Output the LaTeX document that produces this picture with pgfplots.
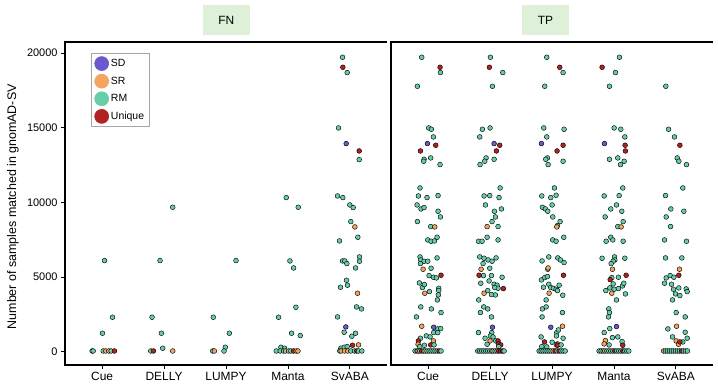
\documentclass[border=0pt]{standalone}
\usepackage{pgfplots}
\pgfplotsset{compat=1.18}
\usepackage{pgfplotstable}
\usepackage{fontspec}
\setmainfont{Liberation Sans}
\definecolor{sdcol}{HTML}{6A5ACD}
\definecolor{srcol}{HTML}{F4A460}
\definecolor{rmcol}{HTML}{66CDAA}
\definecolor{uqcol}{HTML}{B22222}
\definecolor{stripcol}{HTML}{DFF0D8}

\pgfplotstableread{
x y c
0.038 6099 RM
0.005 1229 RM
0.167 2301 RM
-0.162 40 RM
-0.145 40 RM
0.016 40 RM
0.059 40 SR
0.108 40 SR
0.145 40 RM
0.199 40 Unique
0.935 6099 RM
1.140 9673 RM
0.806 2301 RM
0.957 1229 RM
0.978 223 RM
0.785 40 RM
0.828 40 Unique
1.140 40 SR
2.162 6099 RM
1.795 2301 RM
2.054 1229 RM
1.989 290 RM
1.968 40 RM
1.785 40 RM
1.812 40 SR
2.973 10321 RM
3.167 9673 RM
3.032 6076 RM
3.092 5607 RM
3.129 2971 RM
2.849 2301 RM
3.059 1229 RM
3.199 1072 RM
2.887 290 RM
2.946 223 RM
2.812 40 RM
2.876 40 RM
2.930 40 RM
2.962 40 SR
3.011 40 RM
3.048 40 RM
3.092 40 Unique
3.135 40 SR
3.162 40 SR
3.882 19727 RM
3.887 19057 Unique
3.957 18700 RM
3.817 14990 RM
3.941 13940 SD
4.151 13448 Unique
4.151 12867 RM
3.801 10432 RM
3.887 10320 RM
4.000 9829 RM
4.054 9650 RM
4.016 8712 RM
4.081 8355 SR
4.129 7662 RM
3.833 7417 RM
4.156 6345 RM
4.156 6054 RM
3.882 6076 RM
3.919 6076 RM
3.952 5898 RM
4.092 5607 RM
3.946 4781 RM
3.962 4446 RM
3.849 4312 RM
4.124 3910 SR
4.108 2994 RM
4.188 2860 RM
3.801 2323 RM
3.935 1653 SD
3.908 1296 RM
4.092 1229 RM
4.032 1028 RM
3.855 223 RM
3.908 290 RM
3.957 335 RM
4.043 424 Unique
4.140 447 SR
3.838 40 RM
3.860 40 SR
3.914 40 SR
3.968 40 SR
4.016 40 RM
4.075 40 RM
4.113 40 Unique
4.140 40 RM
4.194 40 RM
}\fntab

\pgfplotstableread{
x y c
-0.104 19727 RM
0.192 19057 Unique
0.198 18700 RM
-0.174 17783 RM
0.009 14990 RM
0.052 14901 RM
0.085 14387 RM
-0.012 13940 SD
0.122 13829 Unique
-0.125 13448 Unique
-0.066 12890 RM
-0.072 12756 RM
0.041 12980 RM
0.192 12533 RM
-0.131 10969 RM
-0.158 10432 RM
-0.018 10321 RM
0.160 10455 RM
-0.179 9829 RM
-0.115 9561 RM
-0.066 9650 RM
0.160 9405 RM
0.198 9025 RM
-0.174 8712 RM
0.041 8377 RM
0.106 8355 SR
-0.007 7483 RM
0.047 7394 RM
0.101 7417 RM
0.144 7662 RM
-0.131 6345 RM
-0.120 6143 RM
-0.066 6054 RM
-0.007 6054 RM
0.144 6278 RM
-0.125 5898 RM
-0.082 5518 SR
0.047 5585 RM
0.015 5094 RM
0.085 4982 RM
0.133 4937 RM
0.208 5116 Unique
-0.142 4602 RM
-0.093 4289 RM
-0.061 4490 RM
0.020 4021 RM
-0.055 3910 SR
0.171 4245 RM
0.171 4088 RM
0.165 3798 RM
0.149 3463 RM
-0.120 2994 RM
0.052 2860 RM
0.208 2614 RM
-0.190 2323 RM
-0.104 1698 SR
0.090 1631 SD
0.155 1519 RM
0.203 1541 RM
0.090 1273 RM
0.155 1273 RM
-0.029 1050 RM
0.031 983 RM
-0.125 894 RM
-0.158 715 Unique
0.085 715 SR
-0.163 491 SR
-0.061 424 RM
0.041 447 Unique
0.095 447 RM
-0.136 335 RM
-0.212 40 RM
-0.179 40 RM
-0.163 40 SR
-0.136 40 RM
-0.104 40 Unique
-0.072 40 RM
-0.050 40 SR
-0.018 40 RM
0.015 40 RM
0.047 40 RM
0.079 40 RM
0.111 40 RM
0.144 40 RM
0.176 40 Unique
0.208 40 RM
1.005 19727 RM
0.989 19057 Unique
1.205 18700 RM
1.038 17783 RM
1.000 14990 RM
0.876 14901 RM
0.833 14387 RM
1.065 13940 SD
1.156 13829 Unique
1.102 13448 Unique
0.935 12980 RM
0.914 12756 RM
0.838 12533 RM
1.065 12890 RM
1.162 10969 RM
0.903 10432 RM
0.995 10455 RM
1.145 10321 RM
0.925 9829 RM
1.183 9561 RM
1.070 9405 RM
1.086 9025 RM
1.032 8712 RM
0.952 8377 SR
1.129 8377 RM
0.812 7394 RM
0.871 7394 RM
0.952 7662 RM
1.129 7483 RM
0.833 6345 RM
0.903 6255 RM
0.968 6143 RM
1.032 6054 RM
1.097 6278 RM
0.887 5898 RM
0.855 5518 SR
0.995 5585 RM
0.892 5094 RM
0.822 5116 Unique
1.022 5094 RM
1.194 4982 RM
0.849 4580 RM
0.984 4736 RM
1.065 4513 RM
1.113 4446 RM
1.129 4245 RM
1.075 4289 RM
1.215 4222 Unique
0.903 3910 SR
0.962 4088 RM
1.022 3820 RM
1.086 3798 RM
0.817 3463 RM
0.898 2994 RM
0.962 2860 RM
0.844 2614 RM
1.022 2323 RM
0.812 1273 RM
1.038 1631 SD
1.027 1273 RM
0.919 894 RM
1.005 1050 RM
1.048 983 RM
1.092 715 RM
1.000 715 SR
1.129 715 Unique
0.952 491 RM
1.135 514 Unique
1.172 447 Unique
1.140 335 RM
0.801 40 RM
0.833 40 RM
0.865 40 RM
0.898 40 RM
0.930 40 RM
0.962 40 RM
0.995 40 RM
1.027 40 RM
1.048 40 SR
1.081 40 RM
1.113 40 RM
1.140 40 Unique
1.172 40 Unique
1.205 40 Unique
1.226 40 RM
1.915 19727 RM
2.125 19057 Unique
2.179 18700 RM
1.883 17783 RM
1.867 14990 RM
2.195 14901 RM
1.915 14387 RM
1.829 13940 SD
2.179 13829 Unique
2.082 13448 Unique
1.926 12980 RM
1.899 12890 RM
1.937 12533 RM
2.179 12756 RM
2.039 10969 RM
1.835 10432 RM
1.980 10321 RM
2.066 10477 RM
2.002 9829 RM
1.845 9673 RM
1.894 9561 RM
1.932 9405 RM
2.012 9025 RM
2.131 8712 RM
2.088 8444 RM
2.077 8355 SR
2.012 7483 RM
2.066 7394 RM
2.190 7662 RM
1.840 6076 RM
1.948 6345 RM
2.093 6278 RM
2.136 6143 RM
2.195 5965 RM
1.932 5518 RM
1.937 5607 SR
2.185 5116 Unique
1.829 4803 RM
1.883 4959 RM
1.926 5026 RM
1.862 4312 RM
1.948 4513 RM
1.980 4289 RM
1.953 3910 SR
2.023 4245 RM
2.066 4178 RM
2.115 4446 RM
2.174 3775 RM
2.088 4088 RM
1.905 3463 RM
1.845 2860 RM
1.905 2994 RM
1.840 2323 RM
2.169 2614 RM
1.980 1631 SD
2.169 1698 SR
2.077 1273 RM
2.072 1050 RM
2.104 1452 RM
1.824 983 RM
2.179 894 RM
1.878 648 Unique
2.002 626 RM
2.088 514 SR
2.072 447 SR
2.088 424 Unique
2.147 447 RM
1.835 335 RM
1.915 313 RM
1.792 40 RM
1.824 40 RM
1.856 40 RM
1.889 40 RM
1.921 40 RM
1.953 40 RM
1.985 40 RM
2.018 40 SR
2.050 40 Unique
2.082 40 RM
2.115 40 Unique
2.147 40 RM
2.179 40 RM
2.212 40 RM
3.089 19727 RM
2.809 19057 Unique
3.025 18700 RM
2.928 17783 RM
3.003 14990 RM
3.111 14901 RM
3.176 14387 RM
2.847 13940 SD
3.181 13829 Unique
3.186 13448 Unique
3.062 12980 RM
2.928 12890 RM
3.106 12533 RM
3.165 12756 RM
3.143 10969 RM
2.842 10432 RM
3.084 10455 RM
3.041 9829 RM
2.949 9561 RM
3.127 9405 RM
2.858 9025 RM
3.149 8712 RM
3.062 8377 RM
3.116 8355 SR
2.874 7394 RM
2.949 7662 RM
2.982 7483 RM
3.149 7394 RM
2.809 6255 RM
3.009 6345 RM
3.014 6143 RM
2.987 6054 RM
3.176 6255 RM
2.955 5898 RM
2.976 5518 SR
2.966 4959 RM
2.939 4825 Unique
3.073 4982 RM
3.197 5116 Unique
2.987 4535 RM
2.869 4088 RM
2.933 4267 RM
3.003 4178 RM
3.073 4222 RM
3.138 4401 RM
3.159 4580 RM
2.966 3910 SR
3.186 3865 RM
3.041 3463 RM
2.917 2860 RM
2.928 2614 RM
2.912 2323 RM
3.041 1676 SD
2.933 1541 RM
2.842 1273 RM
2.976 938 RM
3.062 983 RM
2.863 738 SR
2.842 514 SR
3.132 670 RM
3.143 424 Unique
2.922 447 RM
2.761 40 RM
2.793 40 RM
2.826 40 RM
2.852 40 SR
2.885 40 RM
2.917 40 RM
2.949 40 RM
2.982 40 RM
3.014 40 Unique
3.046 40 RM
3.079 40 RM
3.111 40 RM
3.143 40 Unique
3.176 40 RM
3.208 40 RM
3.240 40 RM
3.838 17783 RM
3.882 14901 RM
3.978 14387 RM
4.065 13829 Unique
4.022 12980 RM
4.048 12756 RM
4.172 12533 RM
4.113 10969 RM
3.833 10455 RM
3.919 9561 RM
4.129 9405 RM
3.844 9025 RM
3.914 8377 RM
3.817 7483 RM
4.172 7394 RM
3.833 6278 RM
4.097 6278 RM
4.059 5518 SR
4.048 5116 Unique
3.844 4937 RM
3.908 5094 RM
3.968 4982 RM
3.817 4580 RM
3.930 4513 RM
4.048 4267 RM
3.962 4178 RM
3.995 3865 RM
4.065 3753 RM
4.167 4200 RM
4.183 4021 RM
3.946 3463 RM
4.005 2614 RM
4.151 2323 RM
4.011 1698 SR
3.871 1519 RM
4.151 1296 RM
3.946 983 RM
4.183 894 RM
4.005 715 SR
4.113 648 RM
4.043 491 SR
4.065 648 Unique
3.801 40 SR
3.833 40 RM
3.865 40 RM
3.898 40 RM
3.930 40 RM
3.962 40 RM
3.995 40 RM
4.027 40 RM
4.059 40 RM
4.092 40 Unique
4.124 40 RM
4.156 40 RM
4.188 40 RM
}\tptab

\pgfplotsset{
  panel/.style={
    scale only axis, width=322bp, height=323bp,
    xmin=-0.6, xmax=4.6, ymin=-900, ymax=20750,
    axis line style={draw=none},
    xtick={0,1,2,3,4}, xticklabels={Cue,DELLY,LUMPY,Manta,SvABA},
    xtick pos=bottom, ytick pos=left, tick align=outside,
    major tick length=4bp,
    tick style={black, line width=0.8bp},
    scaled y ticks=false,
    x tick label style={font=\fontsize{12}{14}\selectfont},
    y tick label style={font=\fontsize{11}{13}\selectfont},
    yticklabel={\pgfmathprintnumber[assume math mode=true,fixed,precision=0,set thousands separator={}]{\tick}},
    /pgf/number format/assume math mode=true,
    /pgf/number format/set thousands separator={},
    clip=false,
    scatter/classes={
      SD={mark=*, draw=black, fill=sdcol},
      SR={mark=*, draw=black, fill=srcol},
      RM={mark=*, draw=black, fill=rmcol},
      Unique={mark=*, draw=black, fill=uqcol}},
  },
  pts/.style={scatter, only marks, scatter src=explicit symbolic,
    mark size=2.4bp, line width=0.45bp, forget plot},
}

\begin{document}
\begin{tikzpicture}
\useasboundingbox (0,0) rectangle (718bp,391bp);
\begin{axis}[panel, at={(65bp,26bp)}, anchor=south west,
  ytick={0,5000,10000,15000,20000},
  ylabel={Number of samples matched in gnomAD-SV},
  ylabel style={at={(axis description cs:-0.162,0.49)}, anchor=center,
    font=\fontsize{12.5}{14}\selectfont},
  legend style={at={(axis description cs:0.081,0.966)}, anchor=north west,
    draw=gray!70, line width=0.6bp, font=\fontsize{10.5}{12}\selectfont,
    row sep=3bp, inner xsep=3bp, inner ysep=3bp, cells={anchor=west}},
  legend image code/.code={\fill[#1] (0.26cm,0cm) circle (7bp);},
]
\addlegendimage{sdcol}
\addlegendimage{srcol}
\addlegendimage{rmcol}
\addlegendimage{uqcol}
\addplot[pts] table[x=x, y=y, meta=c] {\fntab};
\legend{SD,SR,RM,Unique}
\draw[line width=1.5bp] (rel axis cs:1,1) -- (rel axis cs:0,1) -- (rel axis cs:0,0) -- (rel axis cs:1,0);
\node[fill=stripcol, minimum width=47bp, minimum height=30bp, inner sep=0pt,
  font=\fontsize{12}{14}\selectfont] at (axis description cs:0.501,1.068) {FN};
\end{axis}
\begin{axis}[panel, at={(391bp,26bp)}, anchor=south west, ytick=\empty]
\addplot[pts] table[x=x, y=y, meta=c] {\tptab};
\draw[line width=1.5bp] (rel axis cs:1,1) -- (rel axis cs:0,1) -- (rel axis cs:0,0) -- (rel axis cs:1,0);
\node[fill=stripcol, minimum width=47bp, minimum height=30bp, inner sep=0pt,
  font=\fontsize{12}{14}\selectfont] at (axis description cs:0.48,1.068) {TP};
\end{axis}
\end{tikzpicture}
\end{document}
